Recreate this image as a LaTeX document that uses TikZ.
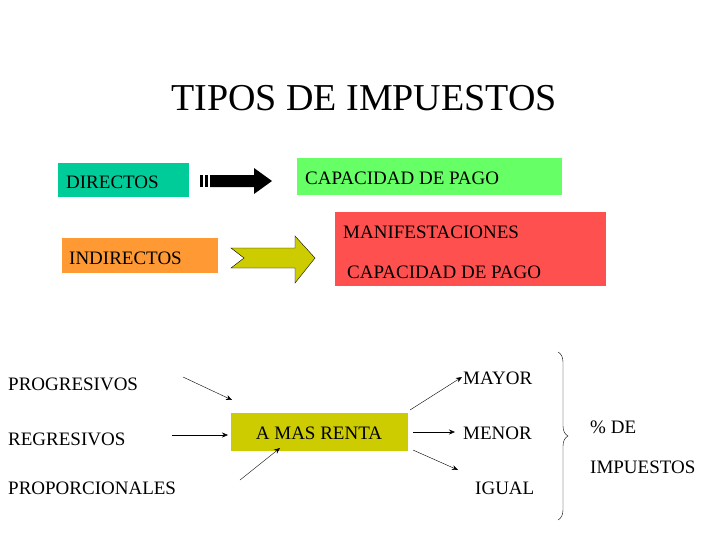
\documentclass[tikz,border=0pt]{standalone}
\usepackage{fontspec}
\setmainfont{Liberation Serif}
\usetikzlibrary{decorations.pathreplacing,arrows.meta}
\begin{document}
\begin{tikzpicture}[x=1pt,y=-1pt,
  lbl/.style={font=\fontsize{19}{22}\selectfont,inner sep=0pt,anchor=west},
  box/.style={lbl,anchor=center},
  arr/.style={-{Stealth[length=6pt,width=5pt]},thin}]
\useasboundingbox (0,0) rectangle (728,546);
\node[font=\fontsize{38}{44}\selectfont] (title) at (364,98) {TIPOS DE IMPUESTOS};
\fill[fill={rgb,255:red,0;green,204;blue,153}] (58,163) rectangle (189,197);
\node[lbl] (dir) at (66,182) {DIRECTOS};
\fill[fill={rgb,255:red,102;green,255;blue,102}] (297,158) rectangle (562,195);
\node[lbl] (cap) at (305,178) {CAPACIDAD DE PAGO};
\fill[fill={rgb,255:red,255;green,153;blue,51}] (62,238) rectangle (218,273);
\node[lbl] (ind) at (69,258) {INDIRECTOS};
\fill[fill={rgb,255:red,255;green,80;blue,80}] (335,212) rectangle (606,286);
\node[lbl] (man1) at (343,232) {MANIFESTACIONES};
\node[lbl] (man2) at (347,272) {CAPACIDAD DE PAGO};
% black striped arrow
\fill (200,175) rectangle (203,187);
\fill (205,175) rectangle (208,187);
\fill (210,175) -- (254,175) -- (254,168) -- (272,181) -- (254,194) -- (254,187) -- (210,187) -- cycle;
% yellow notched arrow
\filldraw[fill={rgb,255:red,204;green,204;blue,0},draw=black,thin]
  (231,248) -- (295,248) -- (295,236) -- (315,258) -- (295,283) -- (295,268) -- (231,268) -- (244,258) -- cycle;
% bottom
\fill[fill={rgb,255:red,204;green,204;blue,0}] (231,413) rectangle (408,451);
\node[box] (renta) at (319,433) {A MAS RENTA};
\node[lbl] (prog) at (8,384) {PROGRESIVOS};
\node[lbl] (reg) at (8,439) {REGRESIVOS};
\node[lbl] (prop) at (8,488) {PROPORCIONALES};
\node[lbl] (mayor) at (463,378) {MAYOR};
\node[lbl] (menor) at (463,433) {MENOR};
\node[lbl] (igual) at (475,488) {IGUAL};
\node[lbl] (pct) at (590,427) {\% DE};
\node[lbl] (imp) at (590,467) {IMPUESTOS};
\coordinate (a1) at (183,377); \coordinate (a2) at (232,400);
\coordinate (b1) at (172,435); \coordinate (b2) at (228,435);
\coordinate (c1) at (240,480); \coordinate (c2) at (280,448);
\coordinate (d1) at (410,410); \coordinate (d2) at (462,377);
\coordinate (e1) at (413,432); \coordinate (e2) at (455,432);
\coordinate (f1) at (413,450); \coordinate (f2) at (458,470);
\draw[arr] (a1) -- (a2);
\draw[arr] (b1) -- (b2);
\draw[arr] (c1) -- (c2);
\draw[arr] (d1) -- (d2);
\draw[arr] (e1) -- (e2);
\draw[arr] (f1) -- (f2);
\draw[decorate,decoration={brace,amplitude=10pt}] (558,352) -- (558,520);
\end{tikzpicture}
\end{document}
